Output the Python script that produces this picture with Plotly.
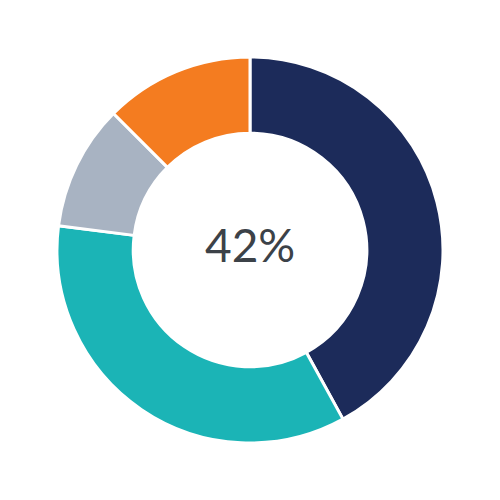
import plotly.graph_objects as go

# slice shares, clockwise from 12 o'clock
labels = ["Navy", "Teal", "Gray", "Orange"]
values = [42, 35, 10.5, 12.5]
colors = ["#1c2b5a", "#1bb4b6", "#a8b3c2", "#f47c20"]
center_text = "42%"

fig = go.Figure(
    go.Pie(
        labels=labels,
        values=values,
        hole=0.605,
        sort=False,
        direction="clockwise",
        rotation=0,
        marker=dict(colors=colors, line=dict(color="white", width=3)),
        textinfo="none",
        hoverinfo="label+percent",
    )
)

fig.add_annotation(
    text=center_text,
    x=0.5, y=0.5, xref="paper", yref="paper",
    yshift=6,
    showarrow=False,
    font=dict(family="Lato", size=46, color="#3c4248"),
)

# page body has an 8px margin, so shift the plot up/left by that
fig.update_layout(
    width=500, height=500,
    margin=dict(l=49, r=65, t=49, b=65),
    showlegend=False,
    paper_bgcolor="white",
    plot_bgcolor="white",
)

fig.write_html("out.html")
